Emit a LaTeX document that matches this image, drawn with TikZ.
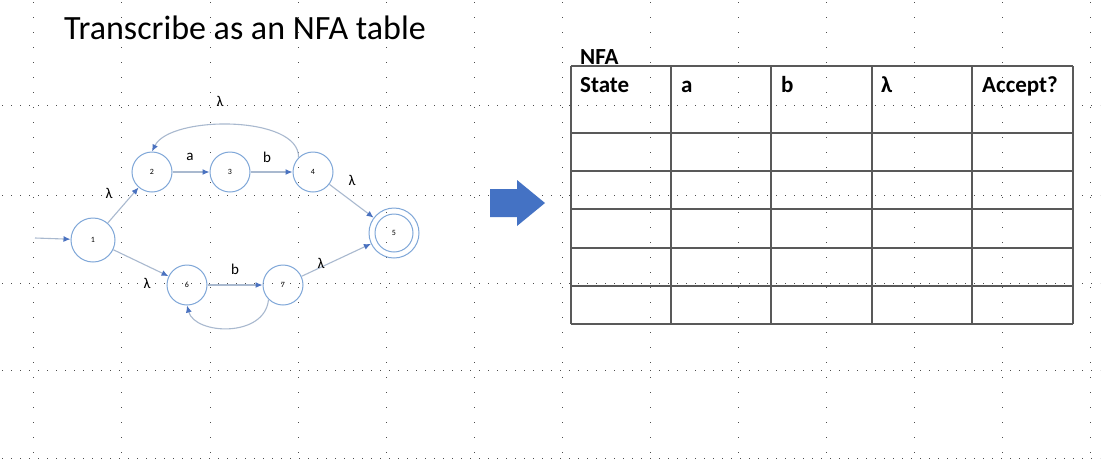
\documentclass[tikz,border=0pt]{standalone}
\usepackage{fontspec}
\setmainfont{Carlito}
\usetikzlibrary{arrows.meta}
\definecolor{st}{HTML}{7FA7D8}
\definecolor{ed}{HTML}{A9B9CF}
\definecolor{tip}{HTML}{4A72C0}
\definecolor{blk}{HTML}{4472C4}
\begin{document}
\begin{tikzpicture}[x=1pt,y=-1pt,
  state/.style={circle,draw=st,line width=1pt,minimum size=40pt,inner sep=0pt,font=\fontsize{8}{9}\selectfont},
  edge/.style={draw=ed,line width=1.1pt,-{Latex[length=7pt,width=6pt,color=tip]}},
  lab/.style={font=\fontsize{15}{17}\selectfont},
  grid/.style={draw=black!70,line width=1pt,dash pattern=on 1pt off 8pt},
  vgrid/.style={draw=black!70,line width=1pt,dash pattern=on 1pt off 14pt},
  cell/.style={draw=black!65,line width=1.3pt},
  hd/.style={font=\bfseries\fontsize{23}{28}\selectfont,anchor=base west,align=left,inner sep=0pt}]
\useasboundingbox (0,0) rectangle (1103,464);
\fill[white] (0,0) rectangle (1103,464);
% dotted grid
\foreach \x in {33,121,210,298,386,474,562,650,738,826,914,1002,1090}
  \draw[vgrid] (\x,2) -- (\x,462);
\foreach \y in {105,195,283,370,458}
  \draw[grid] (2,\y) -- (1100,\y);
% title
\node[anchor=west,font=\fontsize{34}{38}\selectfont,inner sep=0pt] (title) at (64,28) {Transcribe as an NFA table};
% states
\node[state,minimum size=44pt] (q1) at (93,240) {1};
\node[state] (q2) at (152,172) {2};
\node[state] (q3) at (230,172) {3};
\node[state] (q4) at (313,172) {4};
\node[state,minimum size=50pt] (q5) at (394,233) {};
\node[state,minimum size=38pt] (q5i) at (394,233) {5};
\node[state] (q6) at (187,285) {6};
\node[state] (q7) at (283,285) {7};
\coordinate (start) at (35,238);
\draw[edge] (start) -- (q1);
\draw[edge] (q1) -- (q2);
\draw[edge] (q1) -- (q6);
\draw[edge] (q2) -- (q3);
\draw[edge] (q3) -- (q4);
\draw[edge] (q4) -- (q5);
\draw[edge] (q6) -- (q7);
\draw[edge] (q7) -- (q5);
\draw[edge] (q4.north west) .. controls (300,115) and (170,115) .. (q2.north);
\draw[edge] (q7.south west) .. controls (265,338) and (195,335) .. (q6.south);
\node[lab] (l1) at (220,101) {λ};
\node[lab] (l2) at (190,157) {a};
\node[lab] (l3) at (267,157) {b};
\node[lab] (l4) at (352,180) {λ};
\node[lab] (l5) at (109,193) {λ};
\node[lab] (l6) at (147,283) {λ};
\node[lab] (l7) at (235,269) {b};
\node[lab] (l8) at (321,263) {λ};
% block arrow
\fill[blk] (490,189) -- (517,189) -- (517,180) -- (545,203) -- (517,226) -- (517,217) -- (490,217) -- cycle;
% table
\foreach \x in {571,671,771,872,972,1073}
  \draw[cell] (\x,66) -- (\x,324);
\foreach \y in {66,133,171,209,248,286,324}
  \draw[cell] (571,\y) -- (1073,\y);
\node[hd] (h1) at (580,92) {NFA\\State};
\node[hd] (h2) at (681,92) {a};
\node[hd] (h3) at (781,92) {b};
\node[hd] (h4) at (881,92) {λ};
\node[hd] (h5) at (982,92) {Accept?};
\end{tikzpicture}
\end{document}
